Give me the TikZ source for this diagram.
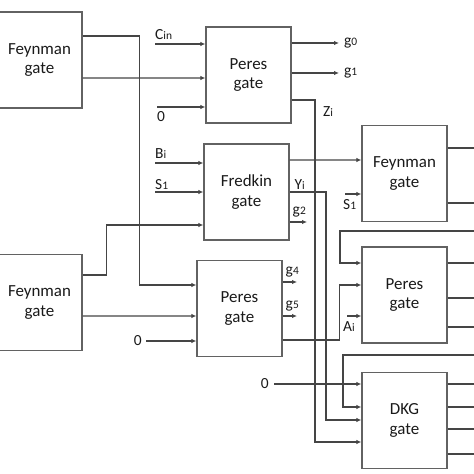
\documentclass[tikz,border=0pt]{standalone}
\usepackage{fontspec}
\setmainfont{Carlito}
\usetikzlibrary{arrows.meta,positioning}
\definecolor{WireGray}{HTML}{454545}
\definecolor{BoxGray}{HTML}{626262}
\definecolor{TextBlack}{HTML}{1A1A1A}
\newcommand\subtxt[1]{{\fontsize{11.5}{13}\selectfont #1}}
\tikzset{
    % Gate boxes
    gate/.style={
        rectangle,
        draw=BoxGray,
        line width=1.3bp,
        fill=white,
        text=TextBlack,
        minimum width=85bp,
        minimum height=96bp,
        align=center,
        font=\fontsize{17}{20}\selectfont
    },
    wire/.style={
        line width=1.2bp,
        color=WireGray
    },
    arrow/.style={
        wire,
        -{Latex[length=5bp,width=4.5bp]}
    },
    siglabel/.style={
        inner sep=0pt,
        text=TextBlack,
        font=\fontsize{15.5}{18}\selectfont
    }
}

\begin{document}
\begin{tikzpicture}[x=1bp, y=-1bp]
    \useasboundingbox (0,0) rectangle (474,474);
    \clip (0,0) rectangle (474,474);

    % Gates
    \node[gate] (feynA) at (39.5,60) {Feynman\\gate};
    \node[gate] (peresA) at (248.5,75) {Peres\\gate};
    \node[gate] (fredkin) at (246.5,192) {Fredkin\\gate};
    \node[gate] (feynB) at (39.5,302.5) {Feynman\\gate};
    \node[gate] (peresB) at (239.5,308.5) {Peres\\gate};
    \node[gate] (feynC) at (404.5,173.5) {Feynman\\gate};
    \node[gate] (peresC) at (404.5,295) {Peres\\gate};
    \node[gate] (dkg) at (404.5,420.5) {DKG\\gate};

    % Feynman gate (top) outputs
    \draw[arrow] ([yshift=24bp]feynA.east) -- ++(57,0) |- ([yshift=23.5bp]peresB.west);
    \draw[arrow] ([yshift=-18bp]feynA.east) -- ([yshift=-3bp]peresA.west);

    % Peres gate (top)
    \coordinate (cin) at (155,44);
    \coordinate (zeroA) at (157,107);
    \draw[arrow] (cin) -- (cin -| peresA.west);
    \node[siglabel, above right=4bp and 0bp of cin] (cinlbl) {C\subtxt{in}};
    \draw[arrow] (zeroA) -- (zeroA -| peresA.west);
    \node[siglabel, below right=4bp and 0bp of zeroA] (zeroAlbl) {0};
    \coordinate (gzero) at (339,43);
    \coordinate (gone) at (339,73);
    \draw[arrow] (gzero -| peresA.east) -- (gzero);
    \node[siglabel, right=5bp of gzero] (gzerolbl) {g\subtxt{0}};
    \draw[arrow] (gone -| peresA.east) -- (gone);
    \node[siglabel, right=5bp of gone] (gonelbl) {g\subtxt{1}};
    \coordinate (zi) at (315,100);
    \draw[arrow] (zi -| peresA.east) -- (zi) |- ([yshift=-21.5bp]dkg.west);
    \node[siglabel, below right=6bp and 8bp of zi] (zilbl) {Z\subtxt{i}};

    % Fredkin gate
    \coordinate (bi) at (155,163);
    \coordinate (sone) at (155,192);
    \draw[arrow] (bi) -- (bi -| fredkin.west);
    \node[siglabel, above right=4bp and 0bp of bi] (bilbl) {B\subtxt{i}};
    \draw[arrow] (sone) -- (sone -| fredkin.west);
    \node[siglabel, above right=2bp and 0bp of sone] (sonelbl) {S\subtxt{1}};
    \draw[arrow] ([yshift=27.5bp]feynB.east) -- ++(24,0) |- ([yshift=-33bp]fredkin.west);
    \draw[arrow] ([yshift=32bp]fredkin.east) -- ([yshift=13.5bp]feynC.west);
    \coordinate (yi) at (326,192);
    \draw[arrow] (yi -| fredkin.east) -- (yi) |- ([yshift=0.5bp]dkg.west);
    \node[siglabel, above left=2bp and 21bp of yi] (yilbl) {Y\subtxt{i}};
    \coordinate (gtwo) at (307,222);
    \draw[arrow] (gtwo -| fredkin.east) -- (gtwo);
    \node[siglabel, above left=5bp and 1bp of gtwo] (gtwolbl) {g\subtxt{2}};

    % Feynman gate (right)
    \coordinate (stwo) at (345,194);
    \draw[arrow] (stwo) -- (stwo -| feynC.west);
    \node[siglabel, below right=5bp and -2bp of stwo] (stwolbl) {S\subtxt{1}};
    \foreach \s in {25.5,-29.5}
        \draw[wire] ([yshift=\s bp]feynC.east) -- ++(30,0);

    % Peres gate (bottom left)
    \draw[arrow] ([yshift=-13.5bp]feynB.east) -- ([yshift=-7.5bp]peresB.west);
    \coordinate (zeroB) at (146,341);
    \draw[arrow] (zeroB) -- (zeroB -| peresB.west);
    \node[siglabel, left=4bp of zeroB] (zeroBlbl) {0};
    \coordinate (gfour) at (297,282);
    \coordinate (gfive) at (297,316);
    \draw[arrow] (gfour -| peresB.east) -- (gfour);
    \node[siglabel, above left=5bp and -2bp of gfour] (gfourlbl) {g\subtxt{4}};
    \draw[arrow] (gfive -| peresB.east) -- (gfive);
    \node[siglabel, above left=5bp and -2bp of gfive] (gfivelbl) {g\subtxt{5}};

    % Peres gate (right)
    \coordinate (backA) at (476,231);
    \draw[arrow] (backA) -- ++(-136,0) |- ([yshift=32bp]peresC.west);
    \draw[arrow] ([yshift=-31.5bp]peresB.east) -- ++(57,0) |- ([yshift=10bp]peresC.west);
    \coordinate (ai) at (347,316);
    \draw[arrow] (ai) -- (ai -| peresC.west);
    \node[siglabel, below right=5bp and -4bp of ai] (ailbl) {A\subtxt{i}};
    \foreach \s in {32,-3,-32}
        \draw[wire] ([yshift=\s bp]peresC.east) -- ++(30,0);

    % DKG gate
    \coordinate (backB) at (476,355);
    \draw[arrow] (backB) -- ++(-133,0) |- ([yshift=13.5bp]dkg.west);
    \coordinate (zeroC) at (274,384);
    \draw[arrow] (zeroC) -- (zeroC -| dkg.west);
    \node[siglabel, left=5bp of zeroC] (zeroClbl) {0};
    \foreach \s in {36.5,13.5,-8.5,-33.5}
        \draw[wire] ([yshift=\s bp]dkg.east) -- ++(30,0);
\end{tikzpicture}
\end{document}
